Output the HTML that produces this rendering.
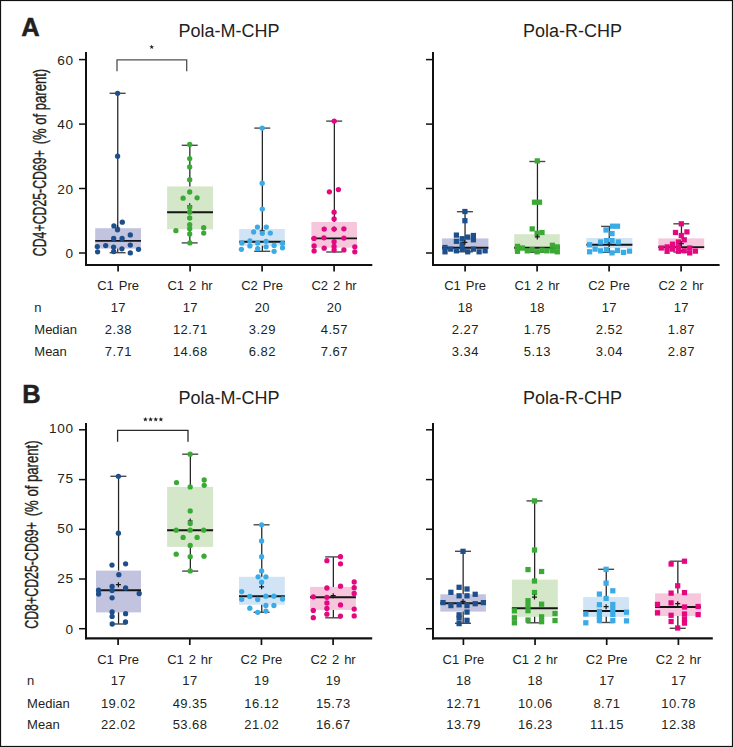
<!DOCTYPE html>
<html><head><meta charset="utf-8"><title>Figure</title>
<style>
html,body{margin:0;padding:0;background:#fff;}
body{width:733px;height:747px;overflow:hidden;}
svg{display:block;font-family:"Liberation Sans",sans-serif;}
text{fill:#231f20;}
</style></head><body>
<svg width="733" height="747" viewBox="0 0 733 747">
<rect x="0" y="0" width="733" height="747" fill="#fff"/>
<text x="21.2" y="36" font-size="25.5" font-weight="bold" stroke="#231f20" stroke-width="0.5">A</text>
<text x="22.3" y="402.8" font-size="25.5" font-weight="bold" stroke="#231f20" stroke-width="0.5">B</text>
<text x="229" y="36.5" font-size="18" text-anchor="middle">Pola-M-CHP</text>
<text x="572.5" y="36.7" font-size="18" text-anchor="middle">Pola-R-CHP</text>
<text x="229" y="403.7" font-size="18" text-anchor="middle">Pola-M-CHP</text>
<text x="572.5" y="404.2" font-size="18" text-anchor="middle">Pola-R-CHP</text>
<text transform="translate(45.9 256.2) rotate(-90)" font-size="18.6" textLength="106.1" lengthAdjust="spacingAndGlyphs" stroke="#231f20" stroke-width="0.4">CD4+CD25-CD69+</text>
<text transform="translate(45.9 144.3) rotate(-90)" font-size="18.6" textLength="75.5" lengthAdjust="spacingAndGlyphs" stroke="#231f20" stroke-width="0.4">(% of parent)</text>
<text transform="translate(37.5 628.8) rotate(-90)" font-size="18.6" textLength="106.7" lengthAdjust="spacingAndGlyphs" stroke="#231f20" stroke-width="0.4">CD8+CD25-CD69+</text>
<text transform="translate(37.5 516.3) rotate(-90)" font-size="18.6" textLength="75.9" lengthAdjust="spacingAndGlyphs" stroke="#231f20" stroke-width="0.4">(% of parent)</text>
<line x1="86" y1="52" x2="86" y2="266" stroke="#111" stroke-width="2"/>
<line x1="79" y1="59.6" x2="86" y2="59.6" stroke="#111" stroke-width="1.5"/>
<text x="73.8" y="64.65" font-size="13.6" text-anchor="end" letter-spacing="0.7">60</text>
<line x1="79" y1="124.1" x2="86" y2="124.1" stroke="#111" stroke-width="1.5"/>
<text x="73.8" y="129.15" font-size="13.6" text-anchor="end" letter-spacing="0.7">40</text>
<line x1="79" y1="188.5" x2="86" y2="188.5" stroke="#111" stroke-width="1.5"/>
<text x="73.8" y="193.55" font-size="13.6" text-anchor="end" letter-spacing="0.7">20</text>
<line x1="79" y1="253" x2="86" y2="253" stroke="#111" stroke-width="1.5"/>
<text x="73.8" y="258.05" font-size="13.6" text-anchor="end" letter-spacing="0.7">0</text>
<line x1="85" y1="265" x2="372.3" y2="265" stroke="#111" stroke-width="2"/>
<line x1="118.1" y1="265" x2="118.1" y2="271.6" stroke="#111" stroke-width="1.7"/>
<line x1="190.1" y1="265" x2="190.1" y2="271.6" stroke="#111" stroke-width="1.7"/>
<line x1="262.1" y1="265" x2="262.1" y2="271.6" stroke="#111" stroke-width="1.7"/>
<line x1="334.1" y1="265" x2="334.1" y2="271.6" stroke="#111" stroke-width="1.7"/>
<line x1="433" y1="52" x2="433" y2="266" stroke="#111" stroke-width="2"/>
<line x1="426" y1="59.6" x2="433" y2="59.6" stroke="#111" stroke-width="1.5"/>
<line x1="426" y1="124.1" x2="433" y2="124.1" stroke="#111" stroke-width="1.5"/>
<line x1="426" y1="188.5" x2="433" y2="188.5" stroke="#111" stroke-width="1.5"/>
<line x1="426" y1="253" x2="433" y2="253" stroke="#111" stroke-width="1.5"/>
<line x1="432" y1="265" x2="719.6" y2="265" stroke="#111" stroke-width="2"/>
<line x1="465.1" y1="265" x2="465.1" y2="271.6" stroke="#111" stroke-width="1.7"/>
<line x1="537.1" y1="265" x2="537.1" y2="271.6" stroke="#111" stroke-width="1.7"/>
<line x1="609.1" y1="265" x2="609.1" y2="271.6" stroke="#111" stroke-width="1.7"/>
<line x1="681.1" y1="265" x2="681.1" y2="271.6" stroke="#111" stroke-width="1.7"/>
<path d="M117 71.2V59.9H186.7V71.2" stroke="#505050" stroke-width="1.3" fill="none"/>
<polygon points="151.7,44.5 152.32,46.15 154.08,46.23 152.7,47.32 153.17,49.02 151.7,48.05 150.23,49.02 150.7,47.32 149.32,46.23 151.08,46.15" fill="#231f20"/>
<rect x="95.2" y="228.2" width="45.8" height="20.4" fill="#c2c3de"/>
<line x1="117.75" y1="93.3" x2="117.75" y2="228.2" stroke="#222" stroke-width="1.25"/>
<line x1="117.75" y1="248.6" x2="117.75" y2="252.7" stroke="#222" stroke-width="1.25"/>
<line x1="109.6" y1="93.3" x2="125.6" y2="93.3" stroke="#4a4a4a" stroke-width="1.4"/>
<line x1="109.6" y1="252.7" x2="125.6" y2="252.7" stroke="#4a4a4a" stroke-width="1.4"/>
<line x1="95.2" y1="240.9" x2="141" y2="240.9" stroke="#151515" stroke-width="1.9"/>
<path d="M115.1 228h5M117.6 225.5v5" stroke="#151515" stroke-width="1.2" fill="none"/>
<circle cx="117.6" cy="93.3" r="2.65" fill="#1d4f8c"/>
<circle cx="117.6" cy="156.2" r="2.65" fill="#1d4f8c"/>
<circle cx="122.3" cy="222.2" r="2.65" fill="#1d4f8c"/>
<circle cx="113.9" cy="225.9" r="2.65" fill="#1d4f8c"/>
<circle cx="117.5" cy="229.8" r="2.65" fill="#1d4f8c"/>
<circle cx="130.3" cy="234.9" r="2.65" fill="#1d4f8c"/>
<circle cx="113.7" cy="238.5" r="2.65" fill="#1d4f8c"/>
<circle cx="122.1" cy="238.5" r="2.65" fill="#1d4f8c"/>
<circle cx="97.3" cy="246.6" r="2.65" fill="#1d4f8c"/>
<circle cx="105.7" cy="245.6" r="2.65" fill="#1d4f8c"/>
<circle cx="113.6" cy="247.1" r="2.65" fill="#1d4f8c"/>
<circle cx="130.3" cy="245.1" r="2.65" fill="#1d4f8c"/>
<circle cx="121.9" cy="248.8" r="2.65" fill="#1d4f8c"/>
<circle cx="138.5" cy="249.3" r="2.65" fill="#1d4f8c"/>
<circle cx="97.6" cy="251.8" r="2.65" fill="#1d4f8c"/>
<circle cx="113.7" cy="251.5" r="2.65" fill="#1d4f8c"/>
<circle cx="130.3" cy="252.9" r="2.65" fill="#1d4f8c"/>
<rect x="167.1" y="186.4" width="45.9" height="42.9" fill="#d4e7c9"/>
<line x1="189.85" y1="145.3" x2="189.85" y2="186.4" stroke="#222" stroke-width="1.25"/>
<line x1="189.85" y1="229.3" x2="189.85" y2="242.9" stroke="#222" stroke-width="1.25"/>
<line x1="181.7" y1="145.3" x2="197.7" y2="145.3" stroke="#4a4a4a" stroke-width="1.4"/>
<line x1="181.7" y1="242.9" x2="197.7" y2="242.9" stroke="#4a4a4a" stroke-width="1.4"/>
<line x1="167.1" y1="212.2" x2="213" y2="212.2" stroke="#151515" stroke-width="1.9"/>
<path d="M187.2 205.8h5M189.7 203.3v5" stroke="#151515" stroke-width="1.2" fill="none"/>
<circle cx="189.7" cy="144.5" r="2.65" fill="#3aaa35"/>
<circle cx="189.7" cy="158.6" r="2.65" fill="#3aaa35"/>
<circle cx="189.7" cy="166.9" r="2.65" fill="#3aaa35"/>
<circle cx="189.7" cy="179.7" r="2.65" fill="#3aaa35"/>
<circle cx="189.7" cy="192" r="2.65" fill="#3aaa35"/>
<circle cx="183.1" cy="198.2" r="2.65" fill="#3aaa35"/>
<circle cx="197.1" cy="197.8" r="2.65" fill="#3aaa35"/>
<circle cx="189.7" cy="207.5" r="2.65" fill="#3aaa35"/>
<circle cx="189.7" cy="212.2" r="2.65" fill="#3aaa35"/>
<circle cx="189.7" cy="218" r="2.65" fill="#3aaa35"/>
<circle cx="189.7" cy="224.7" r="2.65" fill="#3aaa35"/>
<circle cx="189.7" cy="228.7" r="2.65" fill="#3aaa35"/>
<circle cx="175.9" cy="230.7" r="2.65" fill="#3aaa35"/>
<circle cx="189.7" cy="234" r="2.65" fill="#3aaa35"/>
<circle cx="203.7" cy="227.7" r="2.65" fill="#3aaa35"/>
<circle cx="203.7" cy="233.1" r="2.65" fill="#3aaa35"/>
<circle cx="189.9" cy="242.9" r="2.65" fill="#3aaa35"/>
<rect x="239.2" y="229" width="45.6" height="16.7" fill="#d1e4f6"/>
<line x1="262.35" y1="128.1" x2="262.35" y2="229" stroke="#222" stroke-width="1.25"/>
<line x1="262.35" y1="245.7" x2="262.35" y2="251.3" stroke="#222" stroke-width="1.25"/>
<line x1="254.2" y1="128.1" x2="270.2" y2="128.1" stroke="#4a4a4a" stroke-width="1.4"/>
<line x1="254.2" y1="251.3" x2="270.2" y2="251.3" stroke="#4a4a4a" stroke-width="1.4"/>
<line x1="239.2" y1="241.8" x2="284.8" y2="241.8" stroke="#151515" stroke-width="1.9"/>
<path d="M259.7 230.8h5M262.2 228.3v5" stroke="#151515" stroke-width="1.2" fill="none"/>
<circle cx="262.2" cy="128.1" r="2.65" fill="#3aabe6"/>
<circle cx="262.2" cy="183.2" r="2.65" fill="#3aabe6"/>
<circle cx="262.3" cy="209.1" r="2.65" fill="#3aabe6"/>
<circle cx="257.4" cy="227.1" r="2.65" fill="#3aabe6"/>
<circle cx="266.3" cy="227.1" r="2.65" fill="#3aabe6"/>
<circle cx="253.7" cy="232" r="2.65" fill="#3aabe6"/>
<circle cx="262.3" cy="233.3" r="2.65" fill="#3aabe6"/>
<circle cx="270.3" cy="233.1" r="2.65" fill="#3aabe6"/>
<circle cx="241.9" cy="242.9" r="2.65" fill="#3aabe6"/>
<circle cx="249.9" cy="240.8" r="2.65" fill="#3aabe6"/>
<circle cx="257.7" cy="242.9" r="2.65" fill="#3aabe6"/>
<circle cx="266.1" cy="241.3" r="2.65" fill="#3aabe6"/>
<circle cx="282.5" cy="243.3" r="2.65" fill="#3aabe6"/>
<circle cx="249.9" cy="245.9" r="2.65" fill="#3aabe6"/>
<circle cx="266.1" cy="246.8" r="2.65" fill="#3aabe6"/>
<circle cx="274.1" cy="245.4" r="2.65" fill="#3aabe6"/>
<circle cx="282.5" cy="247.8" r="2.65" fill="#3aabe6"/>
<circle cx="241.4" cy="249.3" r="2.65" fill="#3aabe6"/>
<circle cx="257.7" cy="248.7" r="2.65" fill="#3aabe6"/>
<circle cx="274.1" cy="251.3" r="2.65" fill="#3aabe6"/>
<rect x="311.4" y="222" width="45.6" height="25.7" fill="#f6c6dd"/>
<line x1="334.35" y1="121.1" x2="334.35" y2="222" stroke="#222" stroke-width="1.25"/>
<line x1="334.35" y1="247.7" x2="334.35" y2="252" stroke="#222" stroke-width="1.25"/>
<line x1="326.2" y1="121.1" x2="342.2" y2="121.1" stroke="#4a4a4a" stroke-width="1.4"/>
<line x1="326.2" y1="252" x2="342.2" y2="252" stroke="#4a4a4a" stroke-width="1.4"/>
<line x1="311.4" y1="238.4" x2="357" y2="238.4" stroke="#151515" stroke-width="1.9"/>
<path d="M331.7 229.1h5M334.2 226.6v5" stroke="#151515" stroke-width="1.2" fill="none"/>
<circle cx="334.2" cy="121.1" r="2.65" fill="#e4077f"/>
<circle cx="329.4" cy="191.8" r="2.65" fill="#e4077f"/>
<circle cx="338.4" cy="189.6" r="2.65" fill="#e4077f"/>
<circle cx="334.1" cy="212.2" r="2.65" fill="#e4077f"/>
<circle cx="334.1" cy="219" r="2.65" fill="#e4077f"/>
<circle cx="324.2" cy="229.1" r="2.65" fill="#e4077f"/>
<circle cx="334.1" cy="229.1" r="2.65" fill="#e4077f"/>
<circle cx="343.9" cy="228.8" r="2.65" fill="#e4077f"/>
<circle cx="314.1" cy="238.4" r="2.65" fill="#e4077f"/>
<circle cx="323.9" cy="237.8" r="2.65" fill="#e4077f"/>
<circle cx="343.9" cy="238.1" r="2.65" fill="#e4077f"/>
<circle cx="334.1" cy="241.7" r="2.65" fill="#e4077f"/>
<circle cx="314.1" cy="246" r="2.65" fill="#e4077f"/>
<circle cx="314.1" cy="250.9" r="2.65" fill="#e4077f"/>
<circle cx="324.2" cy="248.2" r="2.65" fill="#e4077f"/>
<circle cx="334.1" cy="246.4" r="2.65" fill="#e4077f"/>
<circle cx="334.1" cy="249.9" r="2.65" fill="#e4077f"/>
<circle cx="343.9" cy="249.9" r="2.65" fill="#e4077f"/>
<circle cx="354.8" cy="246.8" r="2.65" fill="#e4077f"/>
<circle cx="354.8" cy="251.8" r="2.65" fill="#e4077f"/>
<rect x="442" y="238.4" width="46.4" height="10.7" fill="#c2c3de"/>
<line x1="465.05" y1="211.7" x2="465.05" y2="238.4" stroke="#222" stroke-width="1.25"/>
<line x1="465.05" y1="249.1" x2="465.05" y2="251.8" stroke="#222" stroke-width="1.25"/>
<line x1="456.9" y1="211.7" x2="472.9" y2="211.7" stroke="#4a4a4a" stroke-width="1.4"/>
<line x1="456.9" y1="251.8" x2="472.9" y2="251.8" stroke="#4a4a4a" stroke-width="1.4"/>
<line x1="442" y1="247.7" x2="488.4" y2="247.7" stroke="#151515" stroke-width="1.9"/>
<rect x="462.28" y="208.88" width="5.25" height="5.25" fill="#1d4f8c"/>
<rect x="462.28" y="218.08" width="5.25" height="5.25" fill="#1d4f8c"/>
<rect x="453.78" y="232.48" width="5.25" height="5.25" fill="#1d4f8c"/>
<rect x="453.78" y="238.68" width="5.25" height="5.25" fill="#1d4f8c"/>
<rect x="459.58" y="236.08" width="5.25" height="5.25" fill="#1d4f8c"/>
<rect x="465.08" y="234.48" width="5.25" height="5.25" fill="#1d4f8c"/>
<rect x="470.78" y="232.88" width="5.25" height="5.25" fill="#1d4f8c"/>
<rect x="470.78" y="237.18" width="5.25" height="5.25" fill="#1d4f8c"/>
<rect x="459.58" y="241.58" width="5.25" height="5.25" fill="#1d4f8c"/>
<rect x="442.38" y="244.88" width="5.25" height="5.25" fill="#1d4f8c"/>
<rect x="442.38" y="249.18" width="5.25" height="5.25" fill="#1d4f8c"/>
<rect x="448.08" y="246.48" width="5.25" height="5.25" fill="#1d4f8c"/>
<rect x="453.78" y="248.18" width="5.25" height="5.25" fill="#1d4f8c"/>
<rect x="459.58" y="246.48" width="5.25" height="5.25" fill="#1d4f8c"/>
<rect x="465.08" y="249.18" width="5.25" height="5.25" fill="#1d4f8c"/>
<rect x="470.78" y="246.48" width="5.25" height="5.25" fill="#1d4f8c"/>
<rect x="476.48" y="249.18" width="5.25" height="5.25" fill="#1d4f8c"/>
<rect x="482.48" y="248.18" width="5.25" height="5.25" fill="#1d4f8c"/>
<path d="M462.4 242.3h5M464.9 239.8v5" stroke="#151515" stroke-width="1.2" fill="none"/>
<rect x="514.2" y="234.2" width="45.6" height="17.1" fill="#d4e7c9"/>
<line x1="537.45" y1="161.5" x2="537.45" y2="234.2" stroke="#222" stroke-width="1.25"/>
<line x1="537.45" y1="251.3" x2="537.45" y2="252.3" stroke="#222" stroke-width="1.25"/>
<line x1="529.3" y1="161.5" x2="545.3" y2="161.5" stroke="#4a4a4a" stroke-width="1.4"/>
<line x1="529.3" y1="252.3" x2="545.3" y2="252.3" stroke="#4a4a4a" stroke-width="1.4"/>
<line x1="514.2" y1="247.7" x2="559.8" y2="247.7" stroke="#151515" stroke-width="1.9"/>
<rect x="534.68" y="158.28" width="5.25" height="5.25" fill="#3aaa35"/>
<rect x="531.88" y="199.58" width="5.25" height="5.25" fill="#3aaa35"/>
<rect x="536.88" y="199.58" width="5.25" height="5.25" fill="#3aaa35"/>
<rect x="529.58" y="226.28" width="5.25" height="5.25" fill="#3aaa35"/>
<rect x="534.48" y="230.68" width="5.25" height="5.25" fill="#3aaa35"/>
<rect x="539.38" y="229.88" width="5.25" height="5.25" fill="#3aaa35"/>
<rect x="514.88" y="243.78" width="5.25" height="5.25" fill="#3aaa35"/>
<rect x="514.88" y="248.68" width="5.25" height="5.25" fill="#3aaa35"/>
<rect x="519.78" y="245.38" width="5.25" height="5.25" fill="#3aaa35"/>
<rect x="524.68" y="248.18" width="5.25" height="5.25" fill="#3aaa35"/>
<rect x="529.58" y="247.08" width="5.25" height="5.25" fill="#3aaa35"/>
<rect x="534.48" y="249.18" width="5.25" height="5.25" fill="#3aaa35"/>
<rect x="539.38" y="247.58" width="5.25" height="5.25" fill="#3aaa35"/>
<rect x="544.28" y="248.18" width="5.25" height="5.25" fill="#3aaa35"/>
<rect x="549.78" y="242.68" width="5.25" height="5.25" fill="#3aaa35"/>
<rect x="554.68" y="244.28" width="5.25" height="5.25" fill="#3aaa35"/>
<rect x="554.68" y="249.18" width="5.25" height="5.25" fill="#3aaa35"/>
<rect x="549.78" y="248.18" width="5.25" height="5.25" fill="#3aaa35"/>
<path d="M534.8 236.9h5M537.3 234.4v5" stroke="#151515" stroke-width="1.2" fill="none"/>
<rect x="586.4" y="238" width="46" height="10" fill="#d1e4f6"/>
<line x1="609.25" y1="226.4" x2="609.25" y2="238" stroke="#222" stroke-width="1.25"/>
<line x1="609.25" y1="248" x2="609.25" y2="252.3" stroke="#222" stroke-width="1.25"/>
<line x1="601.1" y1="226.4" x2="617.1" y2="226.4" stroke="#4a4a4a" stroke-width="1.4"/>
<line x1="601.1" y1="252.3" x2="617.1" y2="252.3" stroke="#4a4a4a" stroke-width="1.4"/>
<line x1="586.4" y1="244.7" x2="632.4" y2="244.7" stroke="#151515" stroke-width="1.9"/>
<rect x="609.98" y="223.58" width="5.25" height="5.25" fill="#3aabe6"/>
<rect x="614.88" y="223.58" width="5.25" height="5.25" fill="#3aabe6"/>
<rect x="603.38" y="227.38" width="5.25" height="5.25" fill="#3aabe6"/>
<rect x="609.38" y="230.98" width="5.25" height="5.25" fill="#3aabe6"/>
<rect x="597.98" y="239.38" width="5.25" height="5.25" fill="#3aabe6"/>
<rect x="603.98" y="237.98" width="5.25" height="5.25" fill="#3aabe6"/>
<rect x="609.38" y="237.98" width="5.25" height="5.25" fill="#3aabe6"/>
<rect x="615.68" y="239.38" width="5.25" height="5.25" fill="#3aabe6"/>
<rect x="586.98" y="242.08" width="5.25" height="5.25" fill="#3aabe6"/>
<rect x="592.48" y="246.48" width="5.25" height="5.25" fill="#3aabe6"/>
<rect x="586.98" y="249.18" width="5.25" height="5.25" fill="#3aabe6"/>
<rect x="597.98" y="248.18" width="5.25" height="5.25" fill="#3aabe6"/>
<rect x="603.98" y="247.08" width="5.25" height="5.25" fill="#3aabe6"/>
<rect x="609.38" y="250.28" width="5.25" height="5.25" fill="#3aabe6"/>
<rect x="614.88" y="247.78" width="5.25" height="5.25" fill="#3aabe6"/>
<rect x="620.88" y="249.78" width="5.25" height="5.25" fill="#3aabe6"/>
<rect x="626.88" y="248.48" width="5.25" height="5.25" fill="#3aabe6"/>
<path d="M606.6 244.4h5M609.1 241.9v5" stroke="#151515" stroke-width="1.2" fill="none"/>
<rect x="658.3" y="238.4" width="45.9" height="11.3" fill="#f6c6dd"/>
<line x1="681.45" y1="223.8" x2="681.45" y2="238.4" stroke="#222" stroke-width="1.25"/>
<line x1="681.45" y1="249.7" x2="681.45" y2="252" stroke="#222" stroke-width="1.25"/>
<line x1="673.3" y1="223.8" x2="689.3" y2="223.8" stroke="#4a4a4a" stroke-width="1.4"/>
<line x1="673.3" y1="252" x2="689.3" y2="252" stroke="#4a4a4a" stroke-width="1.4"/>
<line x1="658.3" y1="247.1" x2="704.2" y2="247.1" stroke="#151515" stroke-width="1.9"/>
<rect x="678.68" y="221.18" width="5.25" height="5.25" fill="#e4077f"/>
<rect x="672.88" y="229.88" width="5.25" height="5.25" fill="#e4077f"/>
<rect x="684.28" y="229.28" width="5.25" height="5.25" fill="#e4077f"/>
<rect x="678.68" y="232.88" width="5.25" height="5.25" fill="#e4077f"/>
<rect x="681.58" y="237.18" width="5.25" height="5.25" fill="#e4077f"/>
<rect x="669.88" y="241.58" width="5.25" height="5.25" fill="#e4077f"/>
<rect x="675.78" y="239.38" width="5.25" height="5.25" fill="#e4077f"/>
<rect x="675.78" y="244.28" width="5.25" height="5.25" fill="#e4077f"/>
<rect x="675.78" y="248.68" width="5.25" height="5.25" fill="#e4077f"/>
<rect x="669.88" y="246.48" width="5.25" height="5.25" fill="#e4077f"/>
<rect x="664.48" y="244.28" width="5.25" height="5.25" fill="#e4077f"/>
<rect x="664.48" y="248.68" width="5.25" height="5.25" fill="#e4077f"/>
<rect x="658.68" y="245.38" width="5.25" height="5.25" fill="#e4077f"/>
<rect x="681.58" y="248.18" width="5.25" height="5.25" fill="#e4077f"/>
<rect x="687.08" y="245.38" width="5.25" height="5.25" fill="#e4077f"/>
<rect x="687.08" y="250.28" width="5.25" height="5.25" fill="#e4077f"/>
<rect x="692.78" y="248.48" width="5.25" height="5.25" fill="#e4077f"/>
<path d="M678.8 243.6h5M681.3 241.1v5" stroke="#151515" stroke-width="1.2" fill="none"/>
<text x="118.1" y="290" font-size="13" text-anchor="middle" word-spacing="1.3">C1 Pre</text>
<text x="190.1" y="290" font-size="13" text-anchor="middle" word-spacing="1.3">C1 2 hr</text>
<text x="262.1" y="290" font-size="13" text-anchor="middle" word-spacing="1.3">C2 Pre</text>
<text x="334.1" y="290" font-size="13" text-anchor="middle" word-spacing="1.3">C2 2 hr</text>
<text x="34.3" y="311.6" font-size="13" text-anchor="start">n</text>
<text x="118.35" y="311.6" font-size="13" text-anchor="middle" letter-spacing="0.45">17</text>
<text x="190.35" y="311.6" font-size="13" text-anchor="middle" letter-spacing="0.45">17</text>
<text x="262.35" y="311.6" font-size="13" text-anchor="middle" letter-spacing="0.45">20</text>
<text x="334.35" y="311.6" font-size="13" text-anchor="middle" letter-spacing="0.45">20</text>
<text x="34.3" y="333.8" font-size="13" text-anchor="start">Median</text>
<text x="118.35" y="333.8" font-size="13" text-anchor="middle" letter-spacing="0.45">2.38</text>
<text x="190.35" y="333.8" font-size="13" text-anchor="middle" letter-spacing="0.45">12.71</text>
<text x="262.35" y="333.8" font-size="13" text-anchor="middle" letter-spacing="0.45">3.29</text>
<text x="334.35" y="333.8" font-size="13" text-anchor="middle" letter-spacing="0.45">4.57</text>
<text x="34.3" y="355.7" font-size="13" text-anchor="start">Mean</text>
<text x="118.35" y="355.7" font-size="13" text-anchor="middle" letter-spacing="0.45">7.71</text>
<text x="190.35" y="355.7" font-size="13" text-anchor="middle" letter-spacing="0.45">14.68</text>
<text x="262.35" y="355.7" font-size="13" text-anchor="middle" letter-spacing="0.45">6.82</text>
<text x="334.35" y="355.7" font-size="13" text-anchor="middle" letter-spacing="0.45">7.67</text>
<text x="465.1" y="290" font-size="13" text-anchor="middle" word-spacing="1.3">C1 Pre</text>
<text x="537.1" y="290" font-size="13" text-anchor="middle" word-spacing="1.3">C1 2 hr</text>
<text x="609.1" y="290" font-size="13" text-anchor="middle" word-spacing="1.3">C2 Pre</text>
<text x="681.1" y="290" font-size="13" text-anchor="middle" word-spacing="1.3">C2 2 hr</text>
<text x="465.35" y="311.6" font-size="13" text-anchor="middle" letter-spacing="0.45">18</text>
<text x="537.35" y="311.6" font-size="13" text-anchor="middle" letter-spacing="0.45">18</text>
<text x="609.35" y="311.6" font-size="13" text-anchor="middle" letter-spacing="0.45">17</text>
<text x="681.35" y="311.6" font-size="13" text-anchor="middle" letter-spacing="0.45">17</text>
<text x="465.35" y="333.8" font-size="13" text-anchor="middle" letter-spacing="0.45">2.27</text>
<text x="537.35" y="333.8" font-size="13" text-anchor="middle" letter-spacing="0.45">1.75</text>
<text x="609.35" y="333.8" font-size="13" text-anchor="middle" letter-spacing="0.45">2.52</text>
<text x="681.35" y="333.8" font-size="13" text-anchor="middle" letter-spacing="0.45">1.87</text>
<text x="465.35" y="355.7" font-size="13" text-anchor="middle" letter-spacing="0.45">3.34</text>
<text x="537.35" y="355.7" font-size="13" text-anchor="middle" letter-spacing="0.45">5.13</text>
<text x="609.35" y="355.7" font-size="13" text-anchor="middle" letter-spacing="0.45">3.04</text>
<text x="681.35" y="355.7" font-size="13" text-anchor="middle" letter-spacing="0.45">2.87</text>
<line x1="86" y1="423" x2="86" y2="639.3" stroke="#111" stroke-width="2"/>
<line x1="79" y1="429.8" x2="86" y2="429.8" stroke="#111" stroke-width="1.5"/>
<text x="73.8" y="433.1" font-size="13.6" text-anchor="end" letter-spacing="0.7">100</text>
<line x1="79" y1="479.6" x2="86" y2="479.6" stroke="#111" stroke-width="1.5"/>
<text x="73.8" y="482.9" font-size="13.6" text-anchor="end" letter-spacing="0.7">75</text>
<line x1="79" y1="529.3" x2="86" y2="529.3" stroke="#111" stroke-width="1.5"/>
<text x="73.8" y="533.3" font-size="13.6" text-anchor="end" letter-spacing="0.7">50</text>
<line x1="79" y1="579" x2="86" y2="579" stroke="#111" stroke-width="1.5"/>
<text x="73.8" y="583.4" font-size="13.6" text-anchor="end" letter-spacing="0.7">25</text>
<line x1="79" y1="628.7" x2="86" y2="628.7" stroke="#111" stroke-width="1.5"/>
<text x="73.8" y="633.5" font-size="13.6" text-anchor="end" letter-spacing="0.7">0</text>
<line x1="85" y1="638.4" x2="372.2" y2="638.4" stroke="#111" stroke-width="2.2"/>
<line x1="118.1" y1="638.4" x2="118.1" y2="645" stroke="#111" stroke-width="1.7"/>
<line x1="189.8" y1="638.4" x2="189.8" y2="645" stroke="#111" stroke-width="1.7"/>
<line x1="261.45" y1="638.4" x2="261.45" y2="645" stroke="#111" stroke-width="1.7"/>
<line x1="333.1" y1="638.4" x2="333.1" y2="645" stroke="#111" stroke-width="1.7"/>
<line x1="433" y1="423" x2="433" y2="639.4" stroke="#111" stroke-width="2"/>
<line x1="426" y1="429.8" x2="433" y2="429.8" stroke="#111" stroke-width="1.5"/>
<line x1="426" y1="479.6" x2="433" y2="479.6" stroke="#111" stroke-width="1.5"/>
<line x1="426" y1="529.3" x2="433" y2="529.3" stroke="#111" stroke-width="1.5"/>
<line x1="426" y1="579" x2="433" y2="579" stroke="#111" stroke-width="1.5"/>
<line x1="426" y1="628.7" x2="433" y2="628.7" stroke="#111" stroke-width="1.5"/>
<line x1="432" y1="638.4" x2="712.8" y2="638.4" stroke="#111" stroke-width="2.2"/>
<line x1="463.4" y1="638.4" x2="463.4" y2="645" stroke="#111" stroke-width="1.7"/>
<line x1="535.05" y1="638.4" x2="535.05" y2="645" stroke="#111" stroke-width="1.7"/>
<line x1="606.7" y1="638.4" x2="606.7" y2="645" stroke="#111" stroke-width="1.7"/>
<line x1="678.4" y1="638.4" x2="678.4" y2="645" stroke="#111" stroke-width="1.7"/>
<path d="M117.6 441.8V430.4H188V441.8" stroke="#2a2a2a" stroke-width="1.3" fill="none"/>
<polygon points="145.4,416.9 146.02,418.55 147.78,418.63 146.4,419.72 146.87,421.42 145.4,420.45 143.93,421.42 144.4,419.72 143.02,418.63 144.78,418.55" fill="#231f20"/>
<polygon points="150.6,416.9 151.22,418.55 152.98,418.63 151.6,419.72 152.07,421.42 150.6,420.45 149.13,421.42 149.6,419.72 148.22,418.63 149.98,418.55" fill="#231f20"/>
<polygon points="155.7,416.9 156.32,418.55 158.08,418.63 156.7,419.72 157.17,421.42 155.7,420.45 154.23,421.42 154.7,419.72 153.32,418.63 155.08,418.55" fill="#231f20"/>
<polygon points="160.9,416.9 161.52,418.55 163.28,418.63 161.9,419.72 162.37,421.42 160.9,420.45 159.43,421.42 159.9,419.72 158.52,418.63 160.28,418.55" fill="#231f20"/>
<rect x="96" y="570.6" width="45" height="41.8" fill="#c2c3de"/>
<line x1="118.55" y1="476.3" x2="118.55" y2="570.6" stroke="#222" stroke-width="1.25"/>
<line x1="118.55" y1="612.4" x2="118.55" y2="624" stroke="#222" stroke-width="1.25"/>
<line x1="110.4" y1="476.3" x2="126.4" y2="476.3" stroke="#4a4a4a" stroke-width="1.4"/>
<line x1="110.4" y1="624" x2="126.4" y2="624" stroke="#4a4a4a" stroke-width="1.4"/>
<line x1="96" y1="590.2" x2="141" y2="590.2" stroke="#151515" stroke-width="1.9"/>
<path d="M115.9 584.7h5M118.4 582.2v5" stroke="#151515" stroke-width="1.2" fill="none"/>
<circle cx="118.4" cy="476.3" r="2.65" fill="#1d4f8c"/>
<circle cx="118.4" cy="533.2" r="2.65" fill="#1d4f8c"/>
<circle cx="112" cy="565.1" r="2.65" fill="#1d4f8c"/>
<circle cx="125.6" cy="563.8" r="2.65" fill="#1d4f8c"/>
<circle cx="118.8" cy="574.7" r="2.65" fill="#1d4f8c"/>
<circle cx="112.1" cy="586.4" r="2.65" fill="#1d4f8c"/>
<circle cx="112.1" cy="590.4" r="2.65" fill="#1d4f8c"/>
<circle cx="125.6" cy="588" r="2.65" fill="#1d4f8c"/>
<circle cx="98.6" cy="590.2" r="2.65" fill="#1d4f8c"/>
<circle cx="98.6" cy="594" r="2.65" fill="#1d4f8c"/>
<circle cx="139.2" cy="593.5" r="2.65" fill="#1d4f8c"/>
<circle cx="112.1" cy="597.8" r="2.65" fill="#1d4f8c"/>
<circle cx="112.1" cy="612" r="2.65" fill="#1d4f8c"/>
<circle cx="112.1" cy="616.4" r="2.65" fill="#1d4f8c"/>
<circle cx="125.6" cy="613.7" r="2.65" fill="#1d4f8c"/>
<circle cx="112.2" cy="624" r="2.65" fill="#1d4f8c"/>
<circle cx="125.5" cy="621.9" r="2.65" fill="#1d4f8c"/>
<rect x="167.1" y="486.9" width="46" height="60" fill="#d4e7c9"/>
<line x1="190.35" y1="454.2" x2="190.35" y2="486.9" stroke="#222" stroke-width="1.25"/>
<line x1="190.35" y1="546.9" x2="190.35" y2="571.1" stroke="#222" stroke-width="1.25"/>
<line x1="182.2" y1="454.2" x2="198.2" y2="454.2" stroke="#4a4a4a" stroke-width="1.4"/>
<line x1="182.2" y1="571.1" x2="198.2" y2="571.1" stroke="#4a4a4a" stroke-width="1.4"/>
<line x1="167.1" y1="530.2" x2="213.1" y2="530.2" stroke="#151515" stroke-width="1.9"/>
<path d="M187.7 521h5M190.2 518.5v5" stroke="#151515" stroke-width="1.2" fill="none"/>
<circle cx="190.1" cy="454.2" r="2.65" fill="#3aaa35"/>
<circle cx="176.5" cy="482.6" r="2.65" fill="#3aaa35"/>
<circle cx="190.2" cy="486.9" r="2.65" fill="#3aaa35"/>
<circle cx="204.2" cy="480" r="2.65" fill="#3aaa35"/>
<circle cx="204.2" cy="485.3" r="2.65" fill="#3aaa35"/>
<circle cx="190.2" cy="510.9" r="2.65" fill="#3aaa35"/>
<circle cx="190.2" cy="523.5" r="2.65" fill="#3aaa35"/>
<circle cx="176.2" cy="530.2" r="2.65" fill="#3aaa35"/>
<circle cx="190.2" cy="530.2" r="2.65" fill="#3aaa35"/>
<circle cx="203.7" cy="530.2" r="2.65" fill="#3aaa35"/>
<circle cx="183.1" cy="537.4" r="2.65" fill="#3aaa35"/>
<circle cx="197.1" cy="537.4" r="2.65" fill="#3aaa35"/>
<circle cx="190.2" cy="545.5" r="2.65" fill="#3aaa35"/>
<circle cx="176.2" cy="554.2" r="2.65" fill="#3aaa35"/>
<circle cx="190.2" cy="556.7" r="2.65" fill="#3aaa35"/>
<circle cx="204" cy="556.2" r="2.65" fill="#3aaa35"/>
<circle cx="190.2" cy="570.9" r="2.65" fill="#3aaa35"/>
<rect x="239" y="576.8" width="45.8" height="27.9" fill="#d1e4f6"/>
<line x1="261.75" y1="524.8" x2="261.75" y2="576.8" stroke="#222" stroke-width="1.25"/>
<line x1="261.75" y1="604.7" x2="261.75" y2="612.3" stroke="#222" stroke-width="1.25"/>
<line x1="253.6" y1="524.8" x2="269.6" y2="524.8" stroke="#4a4a4a" stroke-width="1.4"/>
<line x1="253.6" y1="612.3" x2="269.6" y2="612.3" stroke="#4a4a4a" stroke-width="1.4"/>
<line x1="239" y1="596.2" x2="284.8" y2="596.2" stroke="#151515" stroke-width="1.9"/>
<path d="M259.1 586.8h5M261.6 584.3v5" stroke="#151515" stroke-width="1.2" fill="none"/>
<circle cx="261.6" cy="524.8" r="2.65" fill="#3aabe6"/>
<circle cx="261.6" cy="541" r="2.65" fill="#3aabe6"/>
<circle cx="261.6" cy="556.7" r="2.65" fill="#3aabe6"/>
<circle cx="261.6" cy="570.9" r="2.65" fill="#3aabe6"/>
<circle cx="258.1" cy="576.8" r="2.65" fill="#3aabe6"/>
<circle cx="265.9" cy="576.8" r="2.65" fill="#3aabe6"/>
<circle cx="261.6" cy="582.2" r="2.65" fill="#3aabe6"/>
<circle cx="241.7" cy="591.6" r="2.65" fill="#3aabe6"/>
<circle cx="241.7" cy="599.3" r="2.65" fill="#3aabe6"/>
<circle cx="249.8" cy="596.5" r="2.65" fill="#3aabe6"/>
<circle cx="257.7" cy="599.5" r="2.65" fill="#3aabe6"/>
<circle cx="265.9" cy="596.2" r="2.65" fill="#3aabe6"/>
<circle cx="273.9" cy="596.2" r="2.65" fill="#3aabe6"/>
<circle cx="282.5" cy="599" r="2.65" fill="#3aabe6"/>
<circle cx="265.9" cy="605.5" r="2.65" fill="#3aabe6"/>
<circle cx="273.9" cy="605.5" r="2.65" fill="#3aabe6"/>
<circle cx="249.8" cy="608.2" r="2.65" fill="#3aabe6"/>
<circle cx="257.7" cy="612.3" r="2.65" fill="#3aabe6"/>
<circle cx="265.9" cy="611.1" r="2.65" fill="#3aabe6"/>
<rect x="310.1" y="586.9" width="45.8" height="23" fill="#f6c6dd"/>
<line x1="333.35" y1="556.9" x2="333.35" y2="586.9" stroke="#222" stroke-width="1.25"/>
<line x1="333.35" y1="609.9" x2="333.35" y2="617.8" stroke="#222" stroke-width="1.25"/>
<line x1="325.2" y1="556.9" x2="341.2" y2="556.9" stroke="#4a4a4a" stroke-width="1.4"/>
<line x1="325.2" y1="617.8" x2="341.2" y2="617.8" stroke="#4a4a4a" stroke-width="1.4"/>
<line x1="310.1" y1="597.3" x2="355.9" y2="597.3" stroke="#151515" stroke-width="1.9"/>
<path d="M330.7 595.7h5M333.2 593.2v5" stroke="#151515" stroke-width="1.2" fill="none"/>
<circle cx="340.5" cy="556.7" r="2.65" fill="#e4077f"/>
<circle cx="326.9" cy="560.7" r="2.65" fill="#e4077f"/>
<circle cx="340.5" cy="563.8" r="2.65" fill="#e4077f"/>
<circle cx="326.9" cy="588" r="2.65" fill="#e4077f"/>
<circle cx="340.5" cy="586.2" r="2.65" fill="#e4077f"/>
<circle cx="354.2" cy="582" r="2.65" fill="#e4077f"/>
<circle cx="354.2" cy="587.7" r="2.65" fill="#e4077f"/>
<circle cx="354.2" cy="593.5" r="2.65" fill="#e4077f"/>
<circle cx="313.3" cy="596.8" r="2.65" fill="#e4077f"/>
<circle cx="326.9" cy="597.3" r="2.65" fill="#e4077f"/>
<circle cx="326.9" cy="603" r="2.65" fill="#e4077f"/>
<circle cx="340.5" cy="604.9" r="2.65" fill="#e4077f"/>
<circle cx="326.9" cy="608.5" r="2.65" fill="#e4077f"/>
<circle cx="313.3" cy="610.4" r="2.65" fill="#e4077f"/>
<circle cx="354.2" cy="609.1" r="2.65" fill="#e4077f"/>
<circle cx="326.9" cy="614.2" r="2.65" fill="#e4077f"/>
<circle cx="340.5" cy="616.1" r="2.65" fill="#e4077f"/>
<circle cx="354.2" cy="615.9" r="2.65" fill="#e4077f"/>
<circle cx="313.3" cy="617.7" r="2.65" fill="#e4077f"/>
<rect x="440.3" y="594.3" width="45.6" height="17.3" fill="#c2c3de"/>
<line x1="463.15" y1="551.3" x2="463.15" y2="594.3" stroke="#222" stroke-width="1.25"/>
<line x1="463.15" y1="611.6" x2="463.15" y2="623.3" stroke="#222" stroke-width="1.25"/>
<line x1="455" y1="551.3" x2="471" y2="551.3" stroke="#4a4a4a" stroke-width="1.4"/>
<line x1="455" y1="623.3" x2="471" y2="623.3" stroke="#4a4a4a" stroke-width="1.4"/>
<line x1="440.3" y1="603.2" x2="485.9" y2="603.2" stroke="#151515" stroke-width="1.9"/>
<rect x="460.38" y="548.68" width="5.25" height="5.25" fill="#1d4f8c"/>
<rect x="456.48" y="584.68" width="5.25" height="5.25" fill="#1d4f8c"/>
<rect x="464.38" y="586.38" width="5.25" height="5.25" fill="#1d4f8c"/>
<rect x="448.28" y="589.68" width="5.25" height="5.25" fill="#1d4f8c"/>
<rect x="472.58" y="591.68" width="5.25" height="5.25" fill="#1d4f8c"/>
<rect x="456.48" y="593.18" width="5.25" height="5.25" fill="#1d4f8c"/>
<rect x="464.38" y="593.18" width="5.25" height="5.25" fill="#1d4f8c"/>
<rect x="440.38" y="599.98" width="5.25" height="5.25" fill="#1d4f8c"/>
<rect x="448.28" y="602.98" width="5.25" height="5.25" fill="#1d4f8c"/>
<rect x="456.48" y="602.18" width="5.25" height="5.25" fill="#1d4f8c"/>
<rect x="464.38" y="602.98" width="5.25" height="5.25" fill="#1d4f8c"/>
<rect x="472.58" y="601.08" width="5.25" height="5.25" fill="#1d4f8c"/>
<rect x="480.78" y="599.98" width="5.25" height="5.25" fill="#1d4f8c"/>
<rect x="464.38" y="609.48" width="5.25" height="5.25" fill="#1d4f8c"/>
<rect x="456.48" y="612.18" width="5.25" height="5.25" fill="#1d4f8c"/>
<rect x="456.48" y="615.48" width="5.25" height="5.25" fill="#1d4f8c"/>
<rect x="464.38" y="617.68" width="5.25" height="5.25" fill="#1d4f8c"/>
<rect x="456.48" y="620.98" width="5.25" height="5.25" fill="#1d4f8c"/>
<path d="M460.5 601.4h5M463 598.9v5" stroke="#151515" stroke-width="1.2" fill="none"/>
<rect x="511.9" y="579.6" width="45.9" height="37.2" fill="#d4e7c9"/>
<line x1="534.65" y1="500.9" x2="534.65" y2="579.6" stroke="#222" stroke-width="1.25"/>
<line x1="534.65" y1="616.8" x2="534.65" y2="622.8" stroke="#222" stroke-width="1.25"/>
<line x1="526.5" y1="500.9" x2="542.5" y2="500.9" stroke="#4a4a4a" stroke-width="1.4"/>
<line x1="526.5" y1="622.8" x2="542.5" y2="622.8" stroke="#4a4a4a" stroke-width="1.4"/>
<line x1="511.9" y1="608.3" x2="557.8" y2="608.3" stroke="#151515" stroke-width="1.9"/>
<rect x="531.88" y="498.28" width="5.25" height="5.25" fill="#3aaa35"/>
<rect x="531.88" y="547.38" width="5.25" height="5.25" fill="#3aaa35"/>
<rect x="525.38" y="566.98" width="5.25" height="5.25" fill="#3aaa35"/>
<rect x="538.98" y="568.88" width="5.25" height="5.25" fill="#3aaa35"/>
<rect x="531.88" y="578.38" width="5.25" height="5.25" fill="#3aaa35"/>
<rect x="531.88" y="589.88" width="5.25" height="5.25" fill="#3aaa35"/>
<rect x="525.38" y="598.08" width="5.25" height="5.25" fill="#3aaa35"/>
<rect x="525.38" y="603.08" width="5.25" height="5.25" fill="#3aaa35"/>
<rect x="525.38" y="608.08" width="5.25" height="5.25" fill="#3aaa35"/>
<rect x="538.98" y="601.58" width="5.25" height="5.25" fill="#3aaa35"/>
<rect x="511.78" y="608.18" width="5.25" height="5.25" fill="#3aaa35"/>
<rect x="511.78" y="615.18" width="5.25" height="5.25" fill="#3aaa35"/>
<rect x="511.78" y="620.18" width="5.25" height="5.25" fill="#3aaa35"/>
<rect x="525.38" y="617.38" width="5.25" height="5.25" fill="#3aaa35"/>
<rect x="538.98" y="614.18" width="5.25" height="5.25" fill="#3aaa35"/>
<rect x="538.98" y="619.08" width="5.25" height="5.25" fill="#3aaa35"/>
<rect x="552.38" y="610.88" width="5.25" height="5.25" fill="#3aaa35"/>
<rect x="552.38" y="617.98" width="5.25" height="5.25" fill="#3aaa35"/>
<path d="M532 597.1h5M534.5 594.6v5" stroke="#151515" stroke-width="1.2" fill="none"/>
<rect x="583.2" y="597.1" width="45.8" height="19.7" fill="#d1e4f6"/>
<line x1="606.25" y1="569.3" x2="606.25" y2="597.1" stroke="#222" stroke-width="1.25"/>
<line x1="606.25" y1="616.8" x2="606.25" y2="622.5" stroke="#222" stroke-width="1.25"/>
<line x1="598.1" y1="569.3" x2="614.1" y2="569.3" stroke="#4a4a4a" stroke-width="1.4"/>
<line x1="598.1" y1="622.5" x2="614.1" y2="622.5" stroke="#4a4a4a" stroke-width="1.4"/>
<line x1="583.2" y1="611" x2="629" y2="611" stroke="#151515" stroke-width="1.9"/>
<rect x="603.48" y="566.68" width="5.25" height="5.25" fill="#3aabe6"/>
<rect x="603.48" y="580.48" width="5.25" height="5.25" fill="#3aabe6"/>
<rect x="610.18" y="588.18" width="5.25" height="5.25" fill="#3aabe6"/>
<rect x="596.78" y="591.48" width="5.25" height="5.25" fill="#3aabe6"/>
<rect x="603.48" y="595.78" width="5.25" height="5.25" fill="#3aabe6"/>
<rect x="596.78" y="602.08" width="5.25" height="5.25" fill="#3aabe6"/>
<rect x="610.18" y="601.88" width="5.25" height="5.25" fill="#3aabe6"/>
<rect x="610.18" y="606.88" width="5.25" height="5.25" fill="#3aabe6"/>
<rect x="610.18" y="611.88" width="5.25" height="5.25" fill="#3aabe6"/>
<rect x="610.18" y="617.98" width="5.25" height="5.25" fill="#3aabe6"/>
<rect x="596.78" y="608.88" width="5.25" height="5.25" fill="#3aabe6"/>
<rect x="596.78" y="613.88" width="5.25" height="5.25" fill="#3aabe6"/>
<rect x="596.78" y="617.88" width="5.25" height="5.25" fill="#3aabe6"/>
<rect x="583.18" y="611.38" width="5.25" height="5.25" fill="#3aabe6"/>
<rect x="583.18" y="620.18" width="5.25" height="5.25" fill="#3aabe6"/>
<rect x="623.88" y="609.58" width="5.25" height="5.25" fill="#3aabe6"/>
<rect x="623.88" y="618.28" width="5.25" height="5.25" fill="#3aabe6"/>
<path d="M603.6 606.7h5M606.1 604.2v5" stroke="#151515" stroke-width="1.2" fill="none"/>
<rect x="655.1" y="593.4" width="45.8" height="22.6" fill="#f6c6dd"/>
<line x1="677.85" y1="561.2" x2="677.85" y2="593.4" stroke="#222" stroke-width="1.25"/>
<line x1="677.85" y1="616" x2="677.85" y2="628.3" stroke="#222" stroke-width="1.25"/>
<line x1="669.7" y1="561.2" x2="685.7" y2="561.2" stroke="#4a4a4a" stroke-width="1.4"/>
<line x1="669.7" y1="628.3" x2="685.7" y2="628.3" stroke="#4a4a4a" stroke-width="1.4"/>
<line x1="655.1" y1="607" x2="700.9" y2="607" stroke="#151515" stroke-width="1.9"/>
<rect x="681.88" y="558.58" width="5.25" height="5.25" fill="#e4077f"/>
<rect x="668.48" y="561.38" width="5.25" height="5.25" fill="#e4077f"/>
<rect x="675.08" y="583.18" width="5.25" height="5.25" fill="#e4077f"/>
<rect x="668.48" y="590.48" width="5.25" height="5.25" fill="#e4077f"/>
<rect x="681.88" y="589.98" width="5.25" height="5.25" fill="#e4077f"/>
<rect x="654.88" y="601.78" width="5.25" height="5.25" fill="#e4077f"/>
<rect x="668.48" y="600.28" width="5.25" height="5.25" fill="#e4077f"/>
<rect x="681.88" y="604.38" width="5.25" height="5.25" fill="#e4077f"/>
<rect x="695.48" y="603.88" width="5.25" height="5.25" fill="#e4077f"/>
<rect x="654.88" y="610.18" width="5.25" height="5.25" fill="#e4077f"/>
<rect x="668.48" y="612.68" width="5.25" height="5.25" fill="#e4077f"/>
<rect x="681.88" y="611.38" width="5.25" height="5.25" fill="#e4077f"/>
<rect x="681.88" y="616.38" width="5.25" height="5.25" fill="#e4077f"/>
<rect x="695.48" y="611.98" width="5.25" height="5.25" fill="#e4077f"/>
<rect x="668.48" y="618.88" width="5.25" height="5.25" fill="#e4077f"/>
<rect x="681.88" y="620.48" width="5.25" height="5.25" fill="#e4077f"/>
<rect x="675.08" y="625.38" width="5.25" height="5.25" fill="#e4077f"/>
<path d="M675.2 603.7h5M677.7 601.2v5" stroke="#151515" stroke-width="1.2" fill="none"/>
<text x="118.1" y="663.7" font-size="13" text-anchor="middle" word-spacing="1.3">C1 Pre</text>
<text x="189.8" y="663.7" font-size="13" text-anchor="middle" word-spacing="1.3">C1 2 hr</text>
<text x="261.45" y="663.7" font-size="13" text-anchor="middle" word-spacing="1.3">C2 Pre</text>
<text x="333.1" y="663.7" font-size="13" text-anchor="middle" word-spacing="1.3">C2 2 hr</text>
<text x="27.1" y="685.3" font-size="13" text-anchor="start">n</text>
<text x="118.35" y="685.3" font-size="13" text-anchor="middle" letter-spacing="0.45">17</text>
<text x="190.05" y="685.3" font-size="13" text-anchor="middle" letter-spacing="0.45">17</text>
<text x="261.7" y="685.3" font-size="13" text-anchor="middle" letter-spacing="0.45">19</text>
<text x="333.35" y="685.3" font-size="13" text-anchor="middle" letter-spacing="0.45">19</text>
<text x="27.1" y="707.5" font-size="13" text-anchor="start">Median</text>
<text x="118.35" y="707.5" font-size="13" text-anchor="middle" letter-spacing="0.45">19.02</text>
<text x="190.05" y="707.5" font-size="13" text-anchor="middle" letter-spacing="0.45">49.35</text>
<text x="261.7" y="707.5" font-size="13" text-anchor="middle" letter-spacing="0.45">16.12</text>
<text x="333.35" y="707.5" font-size="13" text-anchor="middle" letter-spacing="0.45">15.73</text>
<text x="27.1" y="729.4" font-size="13" text-anchor="start">Mean</text>
<text x="118.35" y="729.4" font-size="13" text-anchor="middle" letter-spacing="0.45">22.02</text>
<text x="190.05" y="729.4" font-size="13" text-anchor="middle" letter-spacing="0.45">53.68</text>
<text x="261.7" y="729.4" font-size="13" text-anchor="middle" letter-spacing="0.45">21.02</text>
<text x="333.35" y="729.4" font-size="13" text-anchor="middle" letter-spacing="0.45">16.67</text>
<text x="463.4" y="663.7" font-size="13" text-anchor="middle" word-spacing="1.3">C1 Pre</text>
<text x="535.05" y="663.7" font-size="13" text-anchor="middle" word-spacing="1.3">C1 2 hr</text>
<text x="606.7" y="663.7" font-size="13" text-anchor="middle" word-spacing="1.3">C2 Pre</text>
<text x="678.4" y="663.7" font-size="13" text-anchor="middle" word-spacing="1.3">C2 2 hr</text>
<text x="463.65" y="685.3" font-size="13" text-anchor="middle" letter-spacing="0.45">18</text>
<text x="535.3" y="685.3" font-size="13" text-anchor="middle" letter-spacing="0.45">18</text>
<text x="606.95" y="685.3" font-size="13" text-anchor="middle" letter-spacing="0.45">17</text>
<text x="678.65" y="685.3" font-size="13" text-anchor="middle" letter-spacing="0.45">17</text>
<text x="463.65" y="707.5" font-size="13" text-anchor="middle" letter-spacing="0.45">12.71</text>
<text x="535.3" y="707.5" font-size="13" text-anchor="middle" letter-spacing="0.45">10.06</text>
<text x="606.95" y="707.5" font-size="13" text-anchor="middle" letter-spacing="0.45">8.71</text>
<text x="678.65" y="707.5" font-size="13" text-anchor="middle" letter-spacing="0.45">10.78</text>
<text x="463.65" y="729.4" font-size="13" text-anchor="middle" letter-spacing="0.45">13.79</text>
<text x="535.3" y="729.4" font-size="13" text-anchor="middle" letter-spacing="0.45">16.23</text>
<text x="606.95" y="729.4" font-size="13" text-anchor="middle" letter-spacing="0.45">11.15</text>
<text x="678.65" y="729.4" font-size="13" text-anchor="middle" letter-spacing="0.45">12.38</text>
<rect x="0.5" y="0.5" width="732" height="746" fill="none" stroke="#111" stroke-width="1.2"/>
</svg></body></html>
